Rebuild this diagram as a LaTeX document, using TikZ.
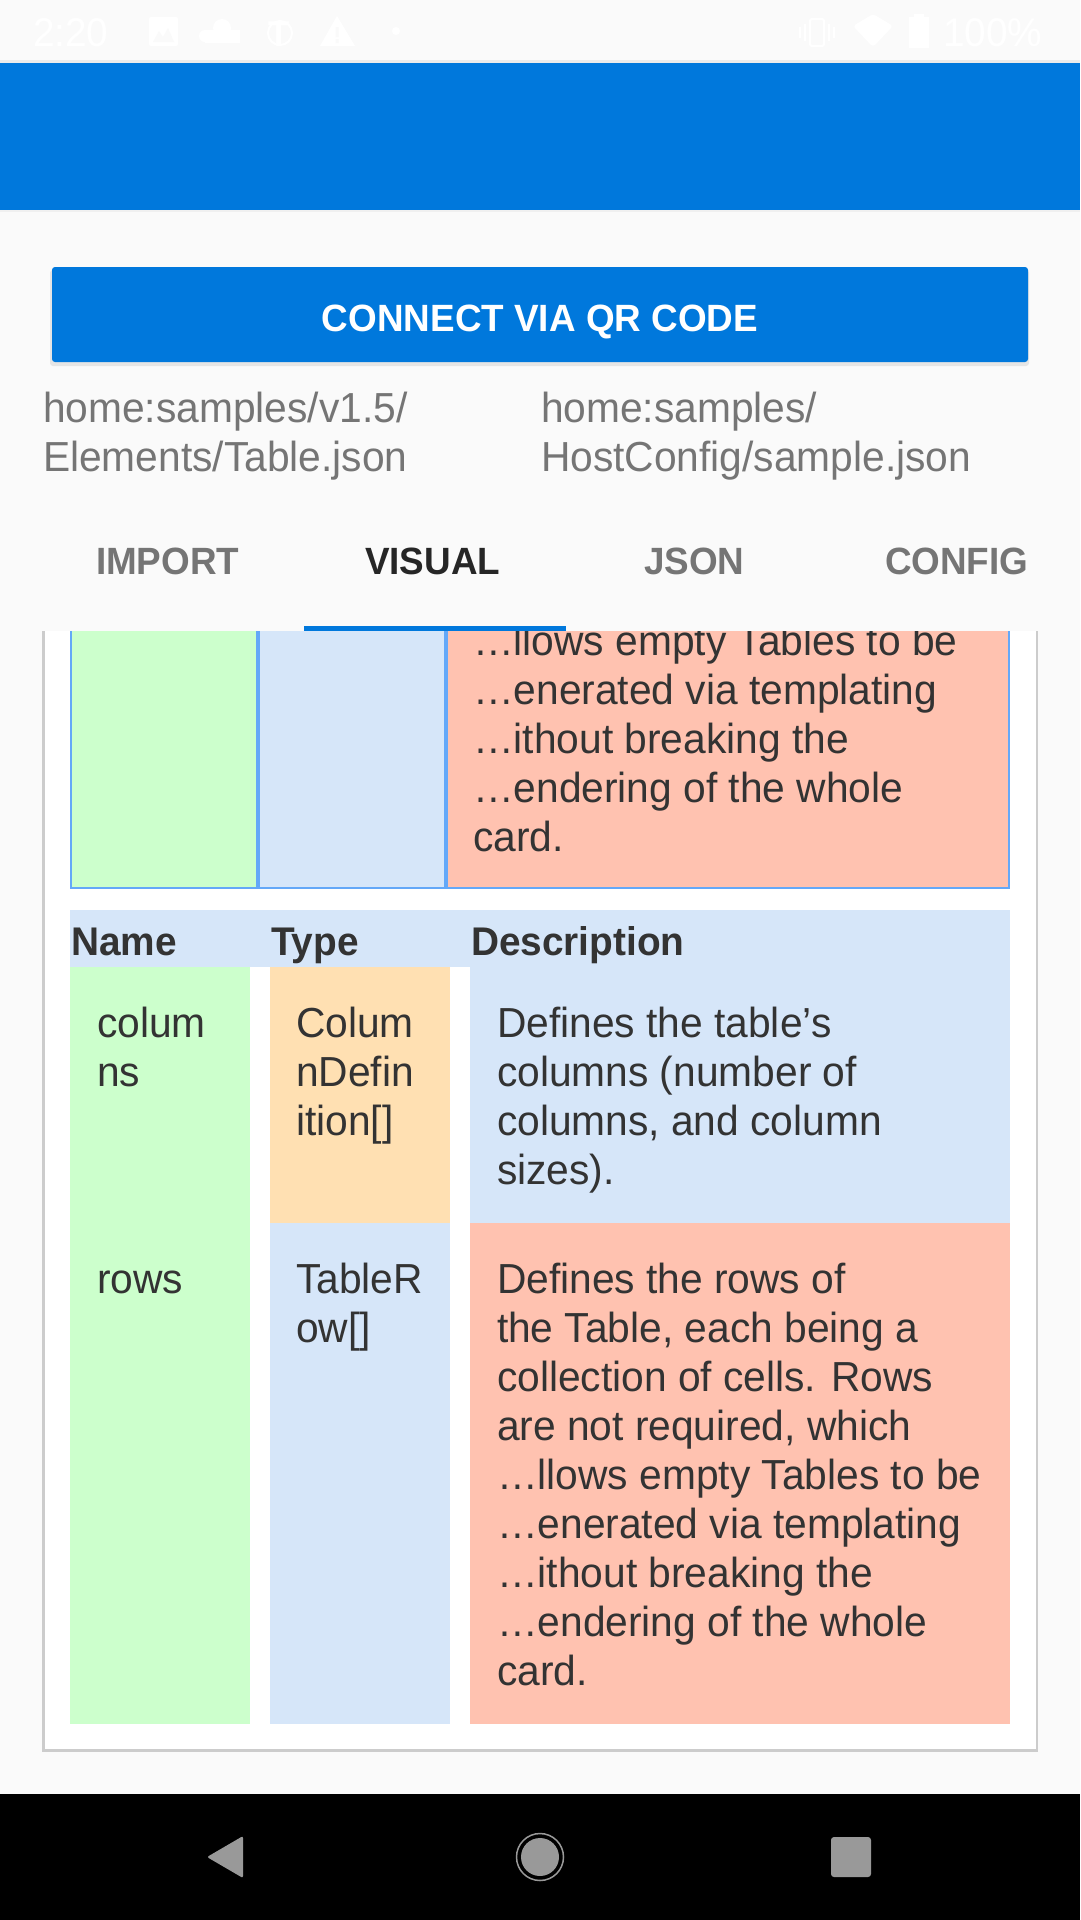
\documentclass[tikz,border=0pt]{standalone}
\usepackage{fontspec}
\setmainfont{Liberation Sans}[FakeStretch=0.97]
\definecolor{bgc}{HTML}{FAFAFA}
\definecolor{blueb}{HTML}{0078DC}
\definecolor{grn}{HTML}{CCFFCC}
\definecolor{lblue}{HTML}{D6E6F9}
\definecolor{peach}{HTML}{FFC2B0}
\definecolor{orng}{HTML}{FFE0B2}
\definecolor{bord}{HTML}{64A8F8}
\definecolor{ink}{HTML}{333333}
\definecolor{grayt}{HTML}{757575}
\definecolor{cardb}{HTML}{CCCCCC}
\definecolor{navg}{HTML}{999999}
\tikzset{
 x=1pt,y=-1pt,
 txt/.style={anchor=base west,inner sep=0pt,outer sep=0pt,text=ink,font=\fontsize{42}{49}\selectfont},
 gtxt/.style={anchor=base west,inner sep=0pt,outer sep=0pt,text=grayt,font=\fontsize{42}{49}\selectfont},
 htxt/.style={anchor=base west,inner sep=0pt,outer sep=0pt,text=ink,font=\fontsize{40}{49}\selectfont\bfseries},
 tabt/.style={anchor=base west,inner sep=0pt,outer sep=0pt,text=grayt,font=\fontsize{38}{44}\selectfont\bfseries},
 stat/.style={anchor=base west,inner sep=0pt,outer sep=0pt,text=white,font=\fontsize{40}{44}\selectfont},
 cell/.style={draw=none},
}
\begin{document}
\begin{tikzpicture}
\useasboundingbox (0,0) rectangle (1080,1920);
\fill[bgc] (0,0) rectangle (1080,1920);
% card
\fill[cardb] (42,600) rectangle (1038,1752);
\fill[white] (45,600) rectangle (1036,1749);
% upper table
\fill[bord] (70,600) rectangle (1010,889);
\fill[grn] (72,600) rectangle (256,887);
\fill[lblue] (260,600) rectangle (444,887);
\fill[peach] (448,600) rectangle (1008,887);
\node[txt] (u1) at (473,655) {…llows empty Tables to be};
\node[txt] (u2) at (473,704) {…enerated via templating};
\node[txt] (u3) at (473,753) {…ithout breaking the};
\node[txt] (u4) at (473,802) {…endering of the whole};
\node[txt] (u5) at (473,851) {card.};
% lower table
\fill[lblue] (70,910) rectangle (1010,967);
\fill[grn] (70,967) rectangle (250,1724);
\fill[orng] (270,967) rectangle (450,1223);
\fill[lblue] (270,1223) rectangle (450,1724);
\fill[lblue] (470,967) rectangle (1010,1223);
\fill[peach] (470,1223) rectangle (1010,1724);
\node[htxt] (h1) at (71,955) {Name};
\node[htxt] (h2) at (271,955) {Type};
\node[htxt] (h3) at (471,955) {Description};
\node[txt] (a1) at (97,1037) {colum};
\node[txt] (a2) at (97,1086) {ns};
\node[txt] (b1) at (296,1037) {Colum};
\node[txt] (b2) at (296,1086) {nDefin};
\node[txt] (b3) at (296,1135) {ition[]};
\node[txt] (c1) at (497,1037) {Defines the table's};
\node[txt] (c2) at (497,1086) {columns (number of};
\node[txt] (c3) at (497,1135) {columns, and column};
\node[txt] (c4) at (497,1184) {sizes).};
\node[txt] (d1) at (97,1293) {rows};
\node[txt] (e1) at (296,1293) {TableR};
\node[txt] (e2) at (296,1342) {ow[]};
\node[txt] (f1) at (497,1293) {Defines the rows of};
\node[txt] (f2) at (497,1342) {the Table, each being a};
\node[txt] (f3) at (497,1391) {collection of cells. Rows};
\node[txt] (f4) at (497,1440) {are not required, which};
\begin{scope}
\clip (497,1450) rectangle (985,1500);
\node[txt] (f5) at (497,1489) {…llows empty Tables to be};
\end{scope}
\node[txt] (f6) at (497,1538) {…enerated via templating};
\node[txt] (f7) at (497,1587) {…ithout breaking the};
\node[txt] (f8) at (497,1636) {…endering of the whole};
\node[txt] (f9) at (497,1685) {card.};
% header cover
\fill[bgc] (0,0) rectangle (1080,631);
\fill[blueb] (304,626) rectangle (566,631);
% status bar
\fill[black!8] (0,60) rectangle (1080,63);
\fill[blueb] (0,63) rectangle (1080,210);
\fill[black!6] (0,210) rectangle (1080,212);
\node[stat] (time) at (33,46) {2:20};
\fill[white,rounded corners=2pt] (149,17) rectangle (178,46);
\fill[bgc] (153,42) -- (159,31) -- (163,37) -- (168,28) -- (174,42) -- cycle;
\fill[white] (205,43) rectangle (240,30) (222,28) circle (9);
\fill[white] (222,33) ++(0,0) (205,36) circle (6) (234,36) circle (6);
\node[stat,font=\fontsize{36}{40}\selectfont\bfseries] (nyt) at (268,46) {T};
\draw[white,line width=2pt] (280,33) circle (12);
\fill[white] (337,16) -- (355,46) -- (320,46) -- cycle;
\fill[bgc] (335.5,27) rectangle (338.5,37) (335.5,39) rectangle (338.5,43);
\fill[white] (396,31) circle (4);
\draw[white,line width=2pt,rounded corners=2pt] (810,19) rectangle (824,46);
\draw[white,line width=1.5pt] (805,24) -- (805,41) (829,24) -- (829,41) (800,27) -- (800,38) (834,27) -- (834,38);
\fill[white,rounded corners=3pt] (853,26) -- (873,14) -- (893,26) -- (873,47) -- cycle;
\fill[white] (914,14) rectangle (924,18) (909,17) rectangle (929,48);
\node[stat] (pct) at (943,46) {100\%};
% button
\fill[black!10,rounded corners=3pt] (50,270) rectangle (1029,366);
\fill[blueb,rounded corners=3pt] (52,267) rectangle (1028,362);
\node[anchor=base,inner sep=0pt,text=white,font=\fontsize{38}{44}\selectfont\bfseries] (btn) at (540,331) {CONNECT VIA QR CODE};
\node[gtxt] (p1) at (43,422) {home:samples/v1.5/};
\node[gtxt] (p2) at (43,471) {Elements/Table.json};
\node[gtxt] (q1) at (541,422) {home:samples/};
\node[gtxt] (q2) at (541,471) {HostConfig/sample.json};
\node[tabt] (t1) at (96,574) {IMPORT};
\node[tabt,text=black!85] (t2) at (365,574) {VISUAL};
\node[tabt] (t3) at (644,574) {JSON};
\node[tabt] (t4) at (885,574) {CONFIG};
% nav bar
\fill[black] (0,1794) rectangle (1080,1920);
\fill[navg,rounded corners=2pt] (243,1836) -- (243,1878) -- (207,1857) -- cycle;
\draw[navg,line width=1.5pt] (540,1857) circle (23.5);
\fill[navg] (540,1857) circle (19);
\fill[navg,rounded corners=3pt] (831,1837) rectangle (871,1877);
\end{tikzpicture}
\end{document}
